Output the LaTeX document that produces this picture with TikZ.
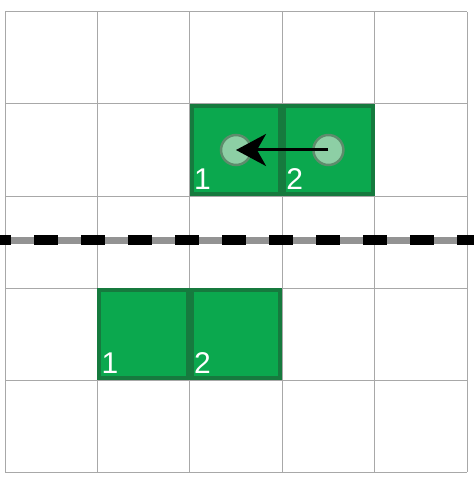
\documentclass[tikz,border=0pt]{standalone}
\usepackage{fontspec}
\setsansfont{Liberation Sans}
\usetikzlibrary{positioning}
\usetikzlibrary{arrows.meta}
\definecolor{boxgreen}{HTML}{0BA84E}
\definecolor{boxedge}{HTML}{167A3E}
\definecolor{dotfill}{HTML}{8DCFA5}
\definecolor{dotedge}{HTML}{5E8C6C}
\definecolor{gridgray}{HTML}{A8A8A8}

\begin{document}
\begin{tikzpicture}[x=1pt,y=1pt,
cell/.style={draw=boxedge,line width=4pt,fill=boxgreen,minimum width=88.4pt,minimum height=88pt,inner sep=0pt},
num/.style={anchor=base west,text=white,inner sep=0pt,font=\sffamily\fontsize{30}{30}\selectfont},
dot/.style={circle,draw=dotedge,line width=2.5pt,fill=dotfill,minimum size=30pt,inner sep=0pt},
gridline/.style={gridgray,line width=1pt}]
\useasboundingbox (0,0) rectangle (474,-481);
\foreach \i in {0,...,5} {
  \draw[gridline] (5+92.4*\i,-12) -- (5+92.4*\i,-472);
  \draw[gridline] (5,-12-92*\i) -- (467,-12-92*\i);
}
\coordinate (cutL) at (0,-240);
\coordinate (cutR) at (474,-240);
\draw[gray!85,line width=7pt] (cutL) -- (cutR);
\draw[black,line width=10.5pt,dash pattern=on 24pt off 23pt,dash phase=13pt] (cutL) -- (cutR);
\node[cell] (top1) at (236,-150) {};
\node[cell,right=0pt of top1] (top2) {};
\node[cell] (bot1) at (143.6,-334) {};
\node[cell,right=0pt of bot1] (bot2) {};
\node[num] (ntop1) at ([shift={(4,7)}]top1.south west) {1};
\node[num] (ntop2) at ([shift={(4,7)}]top2.south west) {2};
\node[num] (nbot1) at ([shift={(4,7)}]bot1.south west) {1};
\node[num] (nbot2) at ([shift={(4,7)}]bot2.south west) {2};
\node[dot] (dot1) at (top1) {};
\node[dot] (dot2) at (top2) {};
\draw[-{Stealth[length=30pt,width=32pt,inset=9pt]},line width=3pt] (dot2.center) -- (dot1.center);
\end{tikzpicture}
\end{document}
